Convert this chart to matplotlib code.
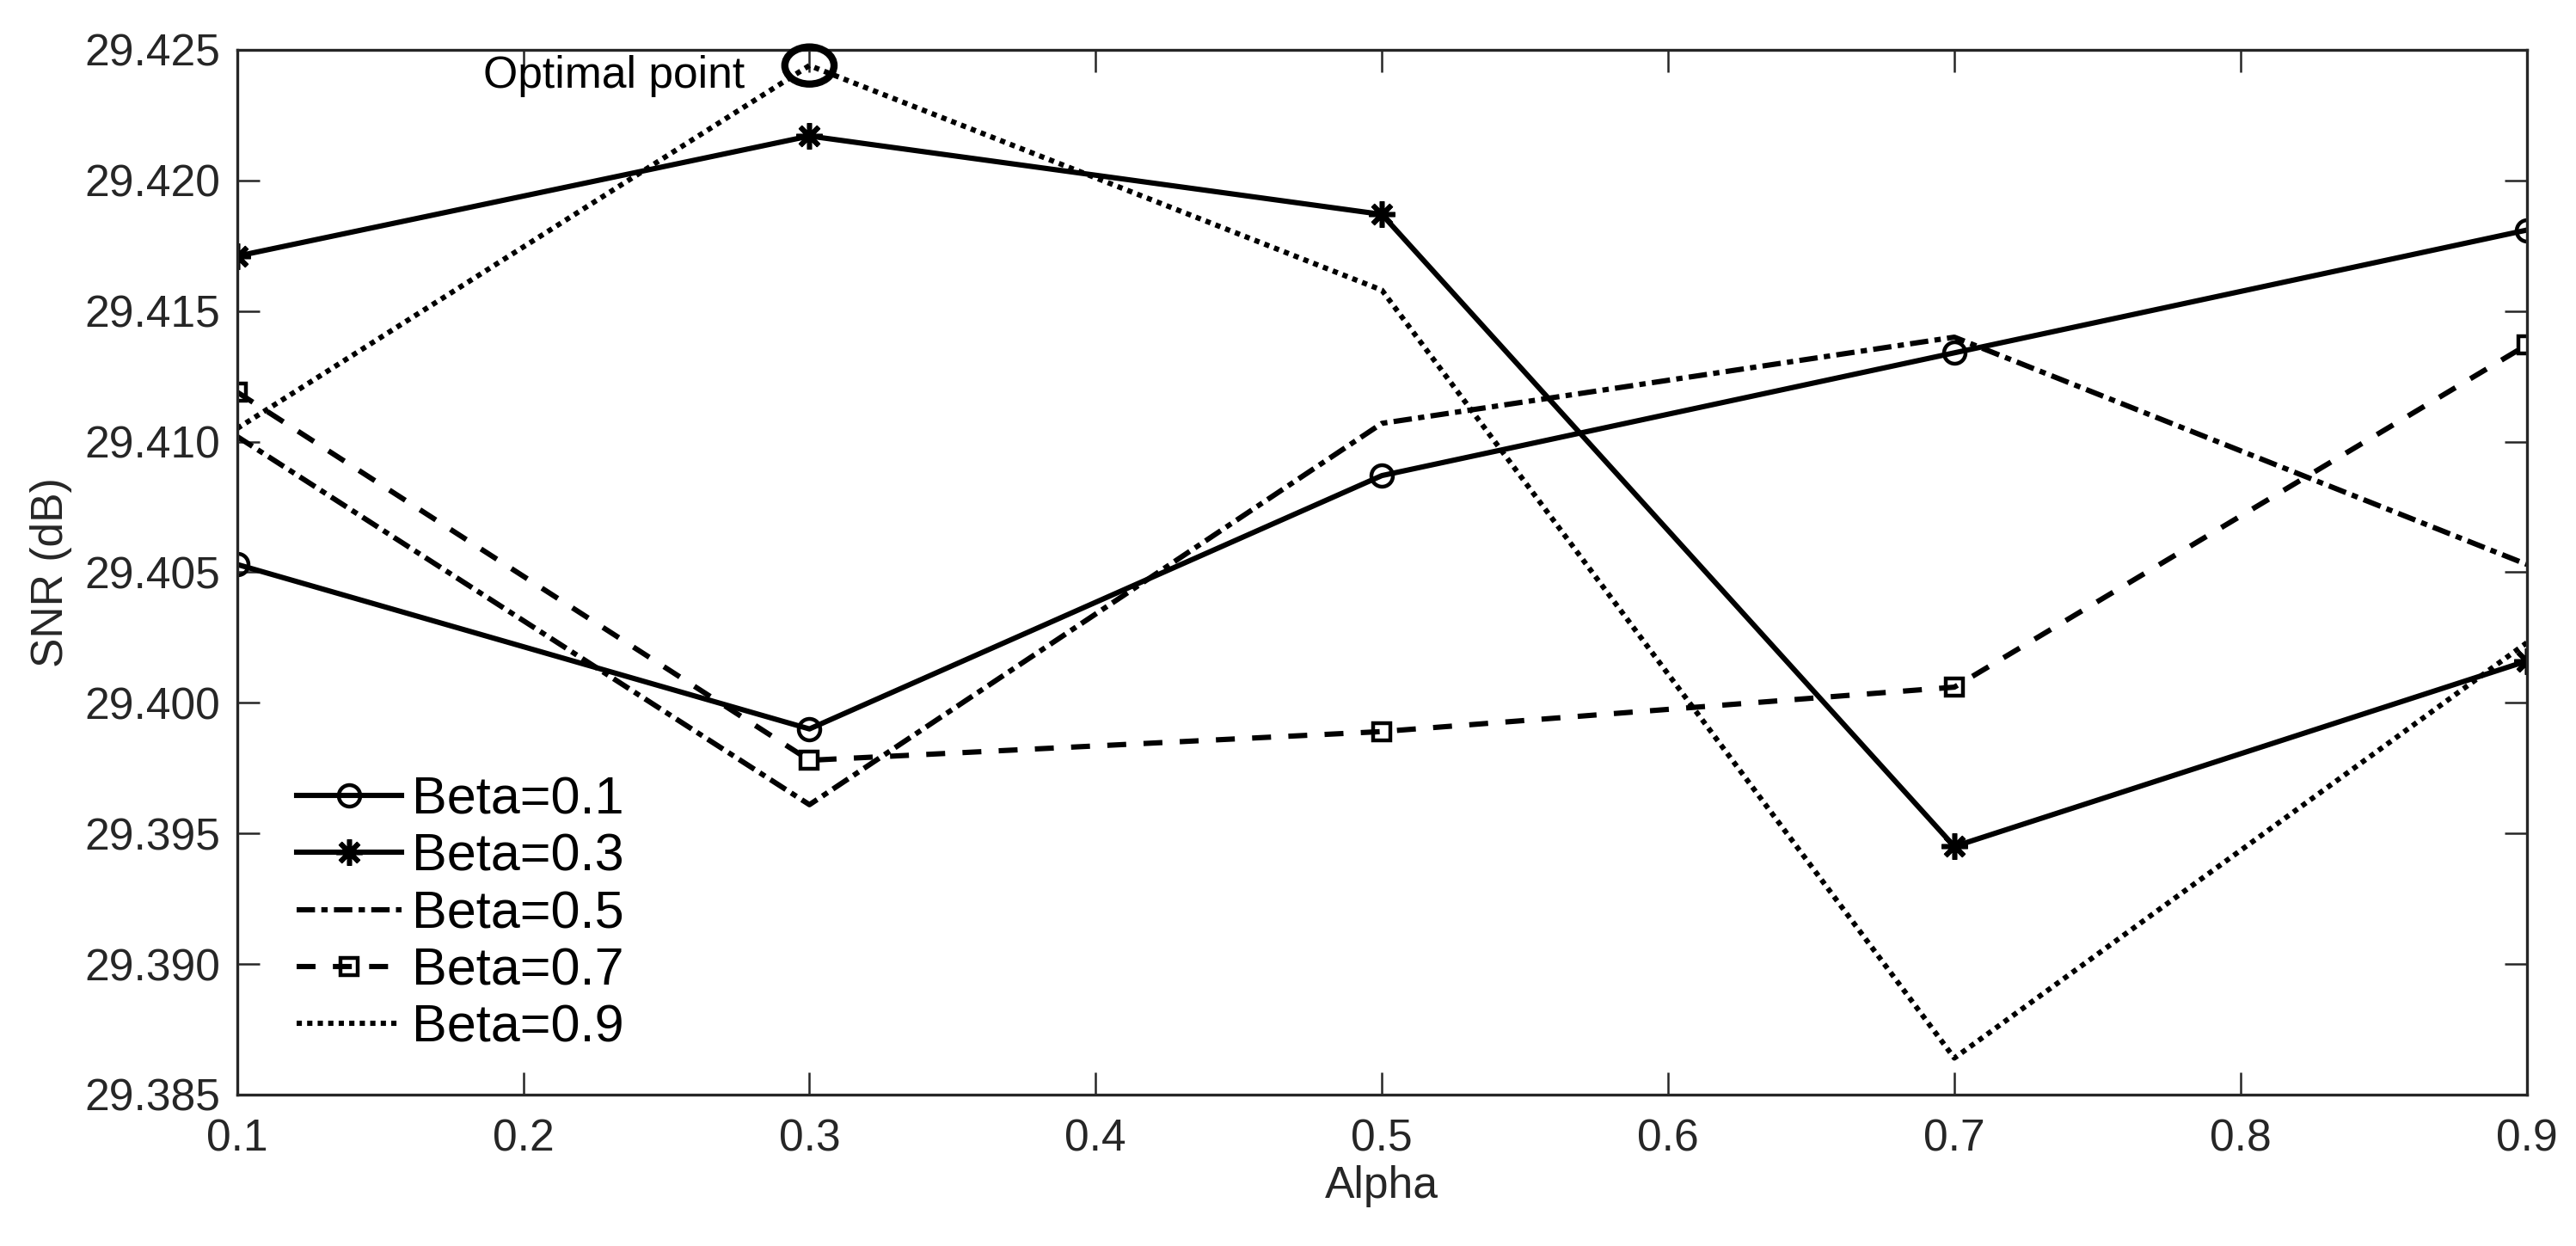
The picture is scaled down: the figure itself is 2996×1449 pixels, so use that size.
import matplotlib
matplotlib.use("Agg")
import matplotlib.pyplot as plt
from matplotlib.patches import Ellipse

plt.rcParams['font.family'] = ['Liberation Sans', 'DejaVu Sans']

# SNR (dB) against Alpha, one curve per Beta
alpha = [0.1, 0.3, 0.5, 0.7, 0.9]
beta_01 = [29.4053, 29.3990, 29.4087, 29.4134, 29.4181]
beta_03 = [29.4171, 29.4217, 29.4187, 29.3945, 29.4016]
beta_05 = [29.4102, 29.3961, 29.4107, 29.4140, 29.4053]
beta_07 = [29.4119, 29.3978, 29.3989, 29.4006, 29.4137]
beta_09 = [29.4105, 29.4244, 29.4158, 29.3864, 29.4023]
labels = ['Beta=0.1', 'Beta=0.3', 'Beta=0.5', 'Beta=0.7', 'Beta=0.9']

x_ticks = [0.1, 0.2, 0.3, 0.4, 0.5, 0.6, 0.7, 0.8, 0.9]
y_ticks = [29.385, 29.390, 29.395, 29.400, 29.405, 29.410, 29.415, 29.420, 29.425]

axis_color = '#262626'
lw = 2.2

fig = plt.figure(figsize=(14.98, 7.245), dpi=200)
ax = fig.add_axes([0.092, 0.1215, 0.8889, 0.8385])

ax.plot(alpha, beta_01, color='black', lw=lw, ls='-', marker='o', ms=9,
        mfc='none', mew=1.6, label=labels[0])
ax.plot(alpha, beta_03, color='black', lw=lw, ls='-', marker=(8, 2, 0), ms=11,
        mew=2.0, label=labels[1])
ax.plot(alpha, beta_05, color='black', lw=lw, ls=(0, (3.5, 1.2, 1.2, 1.2)),
        label=labels[2])
ax.plot(alpha, beta_07, color='black', lw=lw, ls=(0, (3.6, 3.3)), marker='s', ms=7.5,
        mfc='none', mew=1.6, label=labels[3])
ax.plot(alpha, beta_09, color='black', lw=lw, ls=(0, (1, 1)), label=labels[4])

# mark the best point
best = beta_09.index(max(beta_09))
ax.add_patch(Ellipse((alpha[best], beta_09[best]), 0.0172, 0.00142, fill=False,
                     lw=3.0, ec='black', zorder=5, clip_on=False))
ax.text(alpha[best] - 0.0225, beta_09[best] - 0.0004, 'Optimal point', fontsize=18.6,
        ha='right', va='center')

ax.set_xlim(0.1, 0.9)
ax.set_ylim(29.385, 29.425)
ax.set_xticks(x_ticks)
ax.set_xticklabels([f'{v:.1f}' for v in x_ticks])
ax.set_yticks(y_ticks)
ax.set_yticklabels([f'{v:.3f}' for v in y_ticks])

ax.tick_params(direction='in', top=True, right=True, length=9.5, width=0.9,
               color=axis_color, labelcolor=axis_color, labelsize=18.6)
ax.tick_params(axis='x', pad=10)
ax.tick_params(axis='y', pad=7)
for s in ax.spines.values():
    s.set_color(axis_color)
    s.set_linewidth(1.2)

ax.set_xlabel('Alpha', fontsize=18.6, color=axis_color, labelpad=2)
ax.set_ylabel('SNR (dB)', fontsize=18.6, color=axis_color, labelpad=5)

ax.legend(loc='lower left', bbox_to_anchor=(0.026, 0.04), frameon=False, fontsize=22,
          handlelength=2.0, handletextpad=0.2, labelspacing=0.15, borderpad=0,
          borderaxespad=0)

fig.savefig('out.png', dpi=200, facecolor='white')
